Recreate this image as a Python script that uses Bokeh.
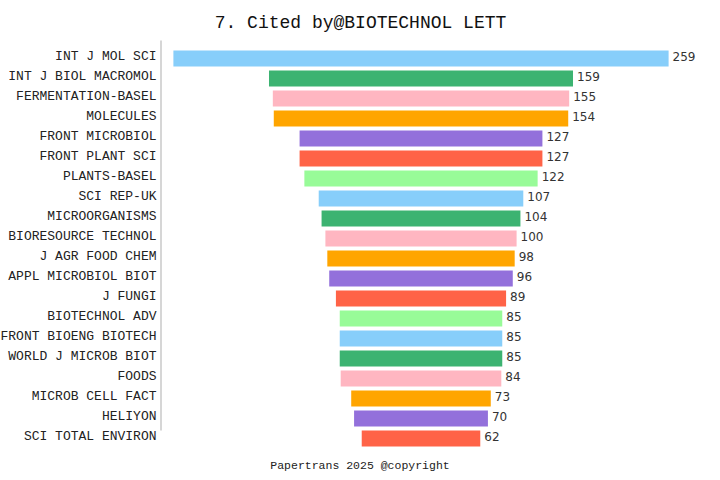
from bokeh.plotting import figure
from bokeh.models import ColumnDataSource, Range1d
from bokeh.core.properties import value
from bokeh.embed import file_html
from bokeh.resources import INLINE

journals = ["INT J MOL SCI", "INT J BIOL MACROMOL", "FERMENTATION-BASEL", "MOLECULES",
            "FRONT MICROBIOL", "FRONT PLANT SCI", "PLANTS-BASEL", "SCI REP-UK",
            "MICROORGANISMS", "BIORESOURCE TECHNOL", "J AGR FOOD CHEM", "APPL MICROBIOL BIOT",
            "J FUNGI", "BIOTECHNOL ADV", "FRONT BIOENG BIOTECH", "WORLD J MICROB BIOT",
            "FOODS", "MICROB CELL FACT", "HELIYON", "SCI TOTAL ENVIRON"]
counts = [259, 159, 155, 154, 127, 127, 122, 107, 104, 100, 98, 96, 89, 85, 85, 85, 84, 73, 70, 62]
palette = ["#87CEFA", "#3CB371", "#FFB6C1", "#FFA500", "#9370DB", "#FF6347", "#98FB98"]
title_text = "7. Cited by@BIOTECHNOL LETT"
footer_text = "Papertrans 2025 @copyright"

W, H = 704, 472
scale = 1.912          # px per unit
cx = 420.5             # bar centre in px
x0 = -cx / scale
x1 = (W - cx) / scale
row = 20.0
top = 58.0
y_start = (H - top) / row
y_end = -top / row

def xd(px):
    return (px - cx) / scale

def yd(py):
    return (py - top) / row

p = figure(width=W, height=H, output_backend="svg", toolbar_location=None,
           x_range=Range1d(x0, x1), y_range=Range1d(y_start, y_end),
           min_border=0, outline_line_color=None)
p.axis.visible = False
p.grid.visible = False
p.background_fill_color = "white"
p.border_fill_color = "white"

idx = list(range(len(journals)))
src = ColumnDataSource(dict(
    y=idx,
    left=[-c / 2 for c in counts],
    right=[c / 2 for c in counts],
    color=[palette[i % len(palette)] for i in idx],
    name=journals,
    lab=[str(c) for c in counts],
))

p.hbar(y="y", left="left", right="right", height=0.8, fill_color="color",
       line_color=None, source=src)

p.text(x="right", y="y", text="lab", source=src, x_offset=4, y_offset=-2,
       text_align="left", text_baseline="middle", text_font=value("DejaVu Sans"),
       text_font_size="12px", text_color="#333333")

p.text(x=xd(156), y="y", text="name", source=src, y_offset=-2,
       text_align="right", text_baseline="middle", text_font=value("Liberation Mono"),
       text_font_size="13px", text_color="#222222")

# axis line
p.segment(x0=[xd(160.5)], y0=[yd(40)], x1=[xd(160.5)], y1=[yd(430)],
          line_color="#d6d6d6", line_width=2)

p.text(x=[xd(360)], y=[yd(22)], text=[title_text], text_align="center",
       text_baseline="middle", text_font=value("Liberation Mono"),
       text_font_size="18px", text_color="#111111")

p.text(x=[xd(359.5)], y=[yd(465)], text=[footer_text], text_align="center",
       text_baseline="middle", text_font=value("Liberation Mono"),
       text_font_size="11.5px", text_color="#222222")

open("out.html", "w").write(file_html(p, INLINE))
